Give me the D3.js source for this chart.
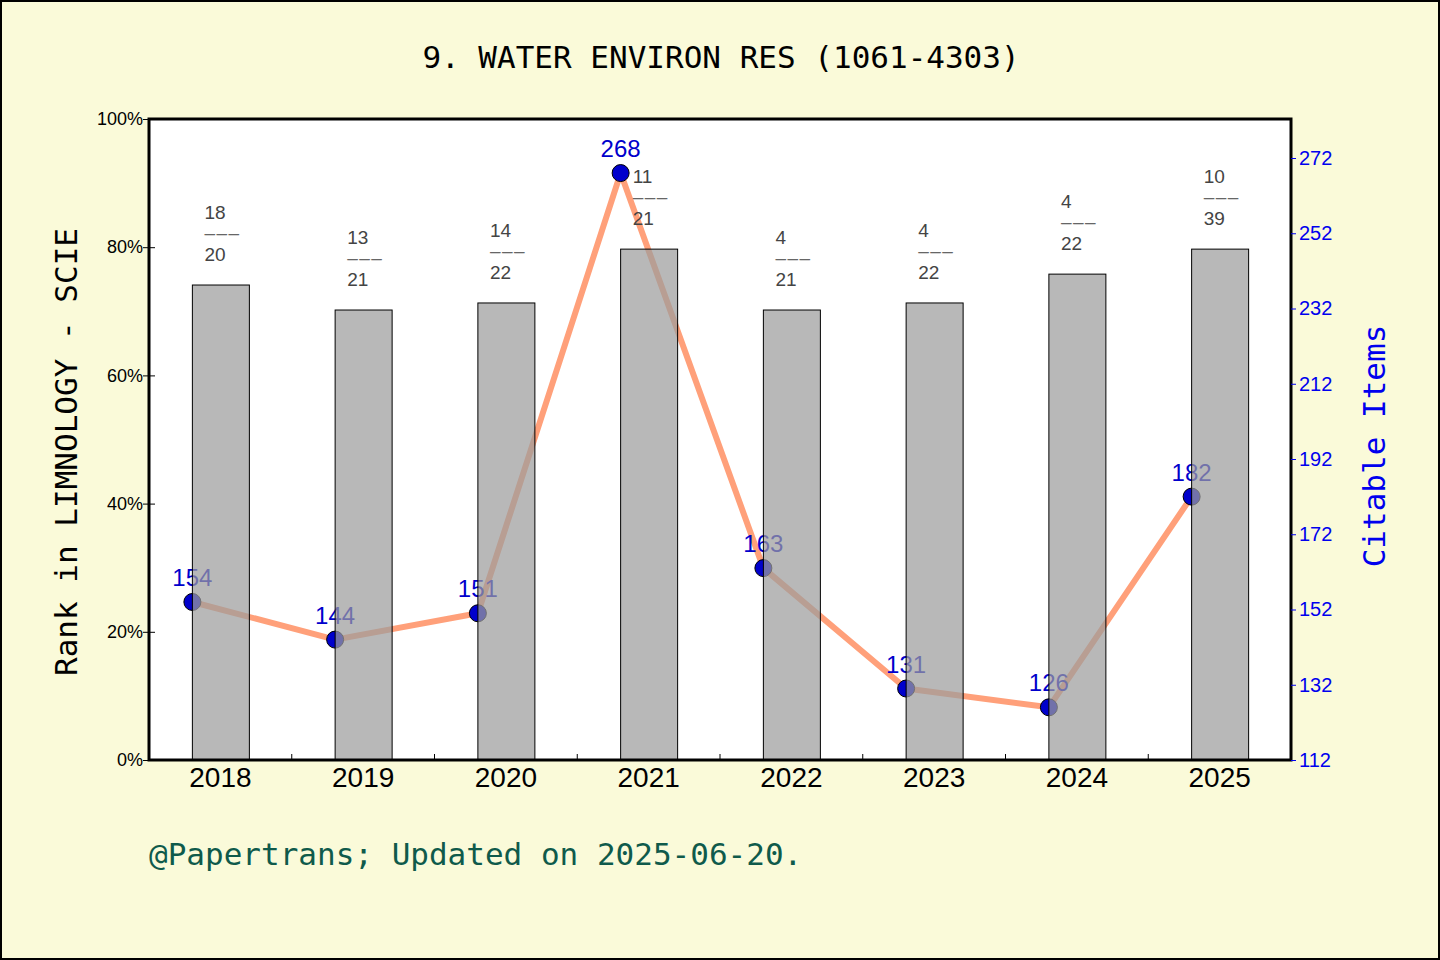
<!DOCTYPE html>
<html>
<head>
<meta charset="utf-8">
<script src="https://cdn.jsdelivr.net/npm/d3@7"></script>
<style>
  html, body { margin: 0; padding: 0; background: #fafad9; }
  svg { display: block; }
</style>
</head>
<body>
<svg id="chart" width="1440" height="960"></svg>
<script>
// ---- data ----
const years = ["2018", "2019", "2020", "2021", "2022", "2023", "2024", "2025"];
const rankPct = [74.1, 70.2, 71.3, 79.7, 70.2, 71.3, 75.8, 79.7];
const citable = [154, 144, 151, 268, 163, 131, 126, 182];
const rankNum = [18, 13, 14, 11, 4, 4, 4, 10];
const rankTotal = [20, 21, 22, 21, 21, 22, 22, 39];
const leftTicks = [0, 20, 40, 60, 80, 100];
const rightTicks = [112, 132, 152, 172, 192, 212, 232, 252, 272];
const titleText = "9. WATER ENVIRON RES (1061-4303)";
const leftTitle = "Rank in LIMNOLOGY - SCIE";
const rightTitle = "Citable Items";
const footerText = "@Papertrans; Updated on 2025-06-20.";

// ---- layout ----
const W = 1440, H = 960;
const plot = { left: 149, right: 1291, top: 119, bottom: 760 };
const mono = "'DejaVu Sans Mono', 'Liberation Mono', monospace";
const sans = "'Liberation Sans', Arial, sans-serif";

const svg = d3.select("#chart");

// figure background + border
svg.append("rect").attr("x", 1).attr("y", 1).attr("width", W - 2).attr("height", H - 2)
  .attr("fill", "#fafad9").attr("stroke", "#000").attr("stroke-width", 2);

// plot background
svg.append("rect").attr("x", plot.left).attr("y", plot.top)
  .attr("width", plot.right - plot.left).attr("height", plot.bottom - plot.top)
  .attr("fill", "#ffffff");

const x = d3.scaleBand().domain(years).range([plot.left, plot.right]).padding(0);
const yL = d3.scaleLinear().domain([0, 100]).range([plot.bottom, plot.top]);
const yR = d3.scaleLinear().domain([112, 112 + (plot.bottom - plot.top) / (602 / 160)]).range([plot.bottom, plot.top]);

const barW = 57;
const barLeft = d => x(d) + x.bandwidth() / 2 - 28;

const data = years.map((yr, i) => ({ yr, pct: rankPct[i], cit: citable[i], num: rankNum[i], tot: rankTotal[i] }));

// line (drawn under bars)
const line = d3.line().x(d => barLeft(d.yr)).y(d => yR(d.cit));
svg.append("path").datum(data).attr("d", line)
  .attr("fill", "none").attr("stroke", "#ffa07a").attr("stroke-width", 6)
  .attr("stroke-linejoin", "round");

// markers
svg.selectAll("circle.pt").data(data).join("circle")
  .attr("class", "pt")
  .attr("cx", d => barLeft(d.yr)).attr("cy", d => yR(d.cit)).attr("r", 8.5)
  .attr("fill", "#0000cc").attr("stroke", "#000").attr("stroke-width", 1);

// value labels
svg.selectAll("text.val").data(data).join("text")
  .attr("class", "val")
  .attr("x", d => barLeft(d.yr)).attr("y", d => yR(d.cit) - 16)
  .attr("text-anchor", "middle")
  .attr("font-family", sans).attr("font-size", 24)
  .attr("fill", "#0000cc")
  .text(d => d.cit);

// bars (semi-transparent, on top of line)
svg.selectAll("rect.bar").data(data).join("rect")
  .attr("class", "bar")
  .attr("x", d => barLeft(d.yr)).attr("y", d => yL(d.pct))
  .attr("width", barW).attr("height", d => yL(0) - yL(d.pct))
  .attr("fill", "#9c9c9c").attr("fill-opacity", 0.72)
  .attr("stroke", "#000").attr("stroke-width", 1);

// fraction labels
const frac = svg.selectAll("g.frac").data(data).join("g").attr("class", "frac")
  .attr("font-family", sans).attr("font-size", 19).attr("fill", "#444");
frac.append("text").attr("x", d => barLeft(d.yr) + 12).attr("y", d => yL(d.pct) - 66).text(d => d.num);
frac.append("text").attr("x", d => barLeft(d.yr) + 12).attr("y", d => yL(d.pct) - 46)
  .attr("letter-spacing", 1.5).attr("fill", "#666").text("\u2013\u2013\u2013");
frac.append("text").attr("x", d => barLeft(d.yr) + 12).attr("y", d => yL(d.pct) - 24).text(d => d.tot);

// plot frame
svg.append("rect").attr("x", plot.left).attr("y", plot.top)
  .attr("width", plot.right - plot.left).attr("height", plot.bottom - plot.top)
  .attr("fill", "none").attr("stroke", "#000").attr("stroke-width", 3);

// left axis
const gL = svg.append("g").attr("transform", `translate(${plot.left},0)`)
  .call(d3.axisLeft(yL).tickValues(leftTicks).tickFormat(d => d + "%").tickSize(6).tickPadding(4));
gL.select(".domain").remove();
gL.selectAll(".tick line").attr("x2", 6).attr("x1", -6).attr("stroke", "#000");
gL.selectAll(".tick text").attr("font-family", sans).attr("font-size", 18).attr("fill", "#000").attr("x", -6);

// right axis
const gR = svg.append("g").attr("transform", `translate(${plot.right},0)`)
  .call(d3.axisRight(yR).tickValues(rightTicks).tickSize(5).tickPadding(3));
gR.select(".domain").remove();
gR.selectAll(".tick line").attr("stroke", "#0000ee");
gR.selectAll(".tick text").attr("font-family", sans).attr("font-size", 20).attr("fill", "#0000ee");

// bottom axis: labels at centres, minor ticks at band boundaries
const gB = svg.append("g").attr("transform", `translate(0,${plot.bottom})`)
  .call(d3.axisBottom(x).tickSize(0).tickPadding(10));
gB.select(".domain").remove();
gB.selectAll(".tick text").attr("font-family", sans).attr("font-size", 28).attr("fill", "#000")
  .attr("y", 27).attr("dy", 0);
svg.selectAll("line.minor").data(years.slice(1)).join("line")
  .attr("class", "minor")
  .attr("x1", d => x(d)).attr("x2", d => x(d))
  .attr("y1", plot.bottom).attr("y2", plot.bottom - 6)
  .attr("stroke", "#000").attr("stroke-width", 1);

// titles
svg.append("text").attr("x", 721).attr("y", 68).attr("text-anchor", "middle")
  .attr("font-family", mono).attr("font-size", 31).attr("fill", "#000").text(titleText);

svg.append("text").attr("transform", "translate(77,452) rotate(-90)")
  .attr("text-anchor", "middle").attr("font-family", mono).attr("font-size", 31)
  .attr("fill", "#000").text(leftTitle);

svg.append("text").attr("transform", "translate(1385,446) rotate(-90)")
  .attr("text-anchor", "middle").attr("font-family", mono).attr("font-size", 31)
  .attr("fill", "#0000ee").text(rightTitle);

svg.append("text").attr("x", 149).attr("y", 865)
  .attr("font-family", mono).attr("font-size", 31).attr("fill", "#0f5a4b").text(footerText);
</script>
</body>
</html>
